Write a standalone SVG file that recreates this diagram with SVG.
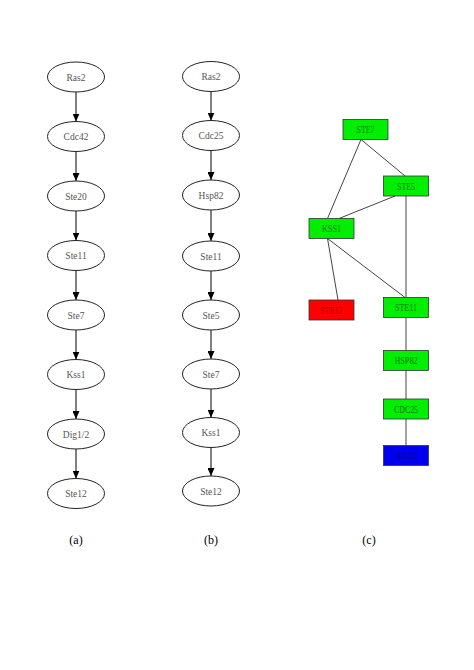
<svg xmlns="http://www.w3.org/2000/svg" width="474" height="670" viewBox="0 0 474 670">
<defs>
<marker id="ah" markerUnits="userSpaceOnUse" markerWidth="8" markerHeight="7" refX="8" refY="3.5" orient="auto">
<path d="M0,0 L8,3.5 L0,7 z" fill="#000"/>
</marker>
</defs>
<style>
.el{fill:#fff;stroke:#222;stroke-width:1}
.et{font-family:"Liberation Serif",serif;font-size:9.5px;fill:#555;text-anchor:middle}
.ar{stroke:#000;stroke-width:1;fill:none;marker-end:url(#ah)}
.ln{stroke:#444;stroke-width:1;fill:none}
.rb{stroke:#333;stroke-width:0.8}
.g{fill:#00ee00}
.r{fill:#ff0000}
.b{fill:#0000ee}
.rt{font-family:"Liberation Serif",serif;font-size:10px;text-anchor:middle}
.tg{fill:#007a00}
.tr{fill:#a00000}
.tb{fill:#0000a0}
.lab{font-family:"Liberation Serif",serif;font-size:12px;fill:#000;text-anchor:middle}
</style>
<rect width="474" height="670" fill="#fff"/>
<g id="connectors">
<line class="ar" x1="76" y1="92" x2="76" y2="121.5"/>
<line class="ar" x1="76" y1="151.5" x2="76" y2="181"/>
<line class="ar" x1="76" y1="211" x2="76" y2="240.5"/>
<line class="ar" x1="76" y1="270.5" x2="76" y2="300"/>
<line class="ar" x1="76" y1="330" x2="76" y2="359.5"/>
<line class="ar" x1="76" y1="389.5" x2="76" y2="419"/>
<line class="ar" x1="76" y1="449" x2="76" y2="478.5"/>
<line class="ar" x1="211" y1="91.5" x2="211" y2="120.5"/>
<line class="ar" x1="211" y1="150.5" x2="211" y2="180"/>
<line class="ar" x1="211" y1="210" x2="211" y2="241"/>
<line class="ar" x1="211" y1="271" x2="211" y2="300"/>
<line class="ar" x1="211" y1="330" x2="211" y2="359"/>
<line class="ar" x1="211" y1="389" x2="211" y2="417.5"/>
<line class="ar" x1="211" y1="447.5" x2="211" y2="476"/>
<line class="ln" x1="361" y1="139.5" x2="327.5" y2="218.5"/>
<line class="ln" x1="361" y1="139.5" x2="405" y2="176"/>
<line class="ln" x1="395" y1="196" x2="339" y2="218.5"/>
<line class="ln" x1="406" y1="196" x2="406" y2="297.5"/>
<line class="ln" x1="327.5" y1="238.5" x2="338" y2="300"/>
<line class="ln" x1="327.5" y1="238.5" x2="405" y2="297.5"/>
<line class="ln" x1="406" y1="317.5" x2="406" y2="350.5"/>
<line class="ln" x1="406" y1="370.5" x2="406" y2="399"/>
<line class="ln" x1="406" y1="419" x2="406" y2="445.5"/>
</g>
<g id="a-Ras2"><ellipse class="el" cx="76" cy="77" rx="28.5" ry="15"/><text class="et" x="76" y="80.5">Ras2</text></g>
<g id="a-Cdc42"><ellipse class="el" cx="76" cy="136.5" rx="28.5" ry="15"/><text class="et" x="76" y="140">Cdc42</text></g>
<g id="a-Ste20"><ellipse class="el" cx="76" cy="196" rx="28.5" ry="15"/><text class="et" x="76" y="199.5">Ste20</text></g>
<g id="a-Ste11"><ellipse class="el" cx="76" cy="255.5" rx="28.5" ry="15"/><text class="et" x="76" y="259">Ste11</text></g>
<g id="a-Ste7"><ellipse class="el" cx="76" cy="315" rx="28.5" ry="15"/><text class="et" x="76" y="318.5">Ste7</text></g>
<g id="a-Kss1"><ellipse class="el" cx="76" cy="374.5" rx="28.5" ry="15"/><text class="et" x="76" y="378">Kss1</text></g>
<g id="a-Dig12"><ellipse class="el" cx="76" cy="434" rx="28.5" ry="15"/><text class="et" x="76" y="437.5">Dig1/2</text></g>
<g id="a-Ste12"><ellipse class="el" cx="76" cy="493.5" rx="28.5" ry="15"/><text class="et" x="76" y="497">Ste12</text></g>
<g id="b-Ras2"><ellipse class="el" cx="211" cy="76.5" rx="28.5" ry="15"/><text class="et" x="211" y="80">Ras2</text></g>
<g id="b-Cdc25"><ellipse class="el" cx="211" cy="135.5" rx="28.5" ry="15"/><text class="et" x="211" y="139">Cdc25</text></g>
<g id="b-Hsp82"><ellipse class="el" cx="211" cy="195" rx="28.5" ry="15"/><text class="et" x="211" y="198.5">Hsp82</text></g>
<g id="b-Ste11"><ellipse class="el" cx="211" cy="256" rx="28.5" ry="15"/><text class="et" x="211" y="259.5">Ste11</text></g>
<g id="b-Ste5"><ellipse class="el" cx="211" cy="315" rx="28.5" ry="15"/><text class="et" x="211" y="318.5">Ste5</text></g>
<g id="b-Ste7"><ellipse class="el" cx="211" cy="374" rx="28.5" ry="15"/><text class="et" x="211" y="377.5">Ste7</text></g>
<g id="b-Kss1"><ellipse class="el" cx="211" cy="432.5" rx="28.5" ry="15"/><text class="et" x="211" y="436">Kss1</text></g>
<g id="b-Ste12"><ellipse class="el" cx="211" cy="491" rx="28.5" ry="15"/><text class="et" x="211" y="494.5">Ste12</text></g>
<g id="c-STE7"><rect class="rb g" x="343" y="119.5" width="45" height="20"/><text class="rt tg" x="365.5" y="133" textLength="18" lengthAdjust="spacingAndGlyphs">STE7</text></g>
<g id="c-STE5"><rect class="rb g" x="383.5" y="176" width="45" height="20"/><text class="rt tg" x="406" y="189.5" textLength="18" lengthAdjust="spacingAndGlyphs">STE5</text></g>
<g id="c-KSS1"><rect class="rb g" x="309" y="218.5" width="45" height="20"/><text class="rt tg" x="331.5" y="232" textLength="19" lengthAdjust="spacingAndGlyphs">KSS1</text></g>
<g id="c-STE12"><rect class="rb r" x="309" y="300" width="45" height="20"/><text class="rt tr" x="331.5" y="313.5" textLength="22" lengthAdjust="spacingAndGlyphs">STE12</text></g>
<g id="c-STE11"><rect class="rb g" x="383.5" y="297.5" width="45" height="20"/><text class="rt tg" x="406" y="311" textLength="22" lengthAdjust="spacingAndGlyphs">STE11</text></g>
<g id="c-HSP82"><rect class="rb g" x="383.5" y="350.5" width="45" height="20"/><text class="rt tg" x="406" y="364" textLength="23" lengthAdjust="spacingAndGlyphs">HSP82</text></g>
<g id="c-CDC25"><rect class="rb g" x="383.5" y="399" width="45" height="20"/><text class="rt tg" x="406" y="412.5" textLength="24" lengthAdjust="spacingAndGlyphs">CDC25</text></g>
<g id="c-RAS2"><rect class="rb b" x="383.5" y="445.5" width="45" height="20"/><text class="rt tb" x="406" y="459" textLength="20" lengthAdjust="spacingAndGlyphs">RAS2</text></g>
<g id="labels">
<text class="lab" x="76" y="544">(a)</text>
<text class="lab" x="211" y="544">(b)</text>
<text class="lab" x="369" y="544">(c)</text>
</g>
</svg>
